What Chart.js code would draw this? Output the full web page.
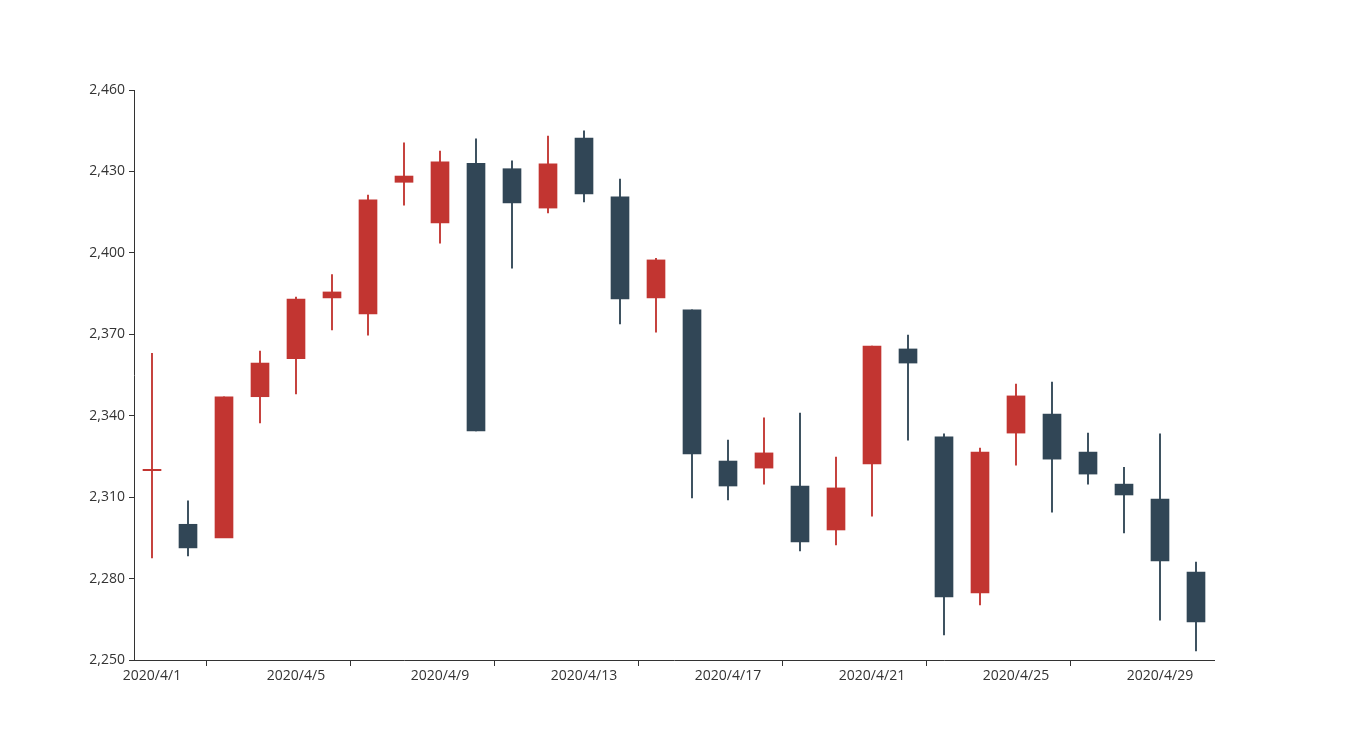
<!DOCTYPE html>
<html><head><meta charset="utf-8">
<script src="https://cdn.jsdelivr.net/npm/chart.js@4"></script>
<style>html,body{margin:0;padding:0;background:#fff}#w{width:1350px;height:750px}</style>
</head><body><div id="w"><canvas id="c"></canvas></div>
<script>
const dates = Array.from({length:30},(_,i)=>'2020/4/'+(i+1));
const opens  = [2320,2300,2295,2347,2361,2383.4,2377.5,2426,2411,2433,2431,2416.5,2442.3,2420.6,2383.4,2379,2323.3,2320.7,2314.1,2297.9,2322.2,2364.6,2332.2,2274.7,2333.6,2340.6,2326.6,2314.8,2309.3,2282.4];
const closes = [2320,2291.3,2347,2359.4,2383,2385.6,2419.5,2428.3,2433.5,2334.4,2418.4,2432.8,2421.7,2383,2397.4,2325.9,2314.1,2326.3,2293.5,2313.4,2365.7,2359.4,2273.2,2326.6,2347.3,2324,2318.5,2310.8,2286.5,2264];
const lows   = [2287.6,2288.3,2295.3,2337.3,2348,2371.6,2369.7,2417.6,2403.6,2334.4,2394.4,2414.7,2418.8,2373.8,2370.8,2309.7,2309,2314.8,2290.2,2292.4,2303,2331,2259.2,2270.3,2321.8,2304.5,2314.8,2296.8,2264.7,2253.3];
const highs  = [2363,2308.6,2347,2363.8,2383.7,2392,2421.3,2440.5,2437.5,2442,2433.9,2443,2445,2427.2,2398,2379,2331,2339.2,2341,2324.8,2365.7,2369.7,2333.3,2328.1,2351.7,2352.4,2333.6,2321,2333.3,2286.1];
const yTicks = [2250,2280,2310,2340,2370,2400,2430,2460];
const UP='#c23531', DOWN='#314656';
const cols = opens.map((o,i)=>closes[i]>=o?UP:DOWN);
const bodies = opens.map((o,i)=>o===closes[i]?[o-0.25,o+0.25]:[o,closes[i]]);
const wicks = lows.map((l,i)=>[l,highs[i]]);
new Chart(document.getElementById('c'),{
  type:'bar',
  data:{labels:dates,datasets:[
    {data:wicks,backgroundColor:cols,barThickness:1.2,grouped:false,order:2},
    {data:bodies,backgroundColor:cols,barThickness:18,grouped:false,order:1}
  ]},
  options:{responsive:true,maintainAspectRatio:false,animation:false,
    layout:{padding:{left:0,right:136,top:90,bottom:0}},
    plugins:{legend:{display:false},tooltip:{enabled:false}},
    scales:{
      x:{offset:true,
        grid:{offset:true,drawOnChartArea:false,drawTicks:true,tickLength:6,
          color:(c)=>c.index%4===2?'#333':'rgba(0,0,0,0)'},
        border:{color:'#333'},
        ticks:{autoSkip:false,maxRotation:0,color:'#333',font:{family:'Open Sans',size:14},padding:2,
          callback:(v,i)=>i%4===0?dates[i]:''},
        afterFit:(s)=>{s.height=90;}},
      y:{min:2250,max:2460,
        afterBuildTicks:(s)=>{s.ticks=yTicks.map(v=>({value:v}));},
        grid:{drawOnChartArea:false,tickLength:5,color:'#333'},
        border:{color:'#333'},
        ticks:{color:'#333',font:{family:'Open Sans',size:14},padding:4,
          callback:(v)=>v.toLocaleString('en-US')},
        afterFit:(s)=>{s.width=134;}}
    }}
});
</script></body></html>
